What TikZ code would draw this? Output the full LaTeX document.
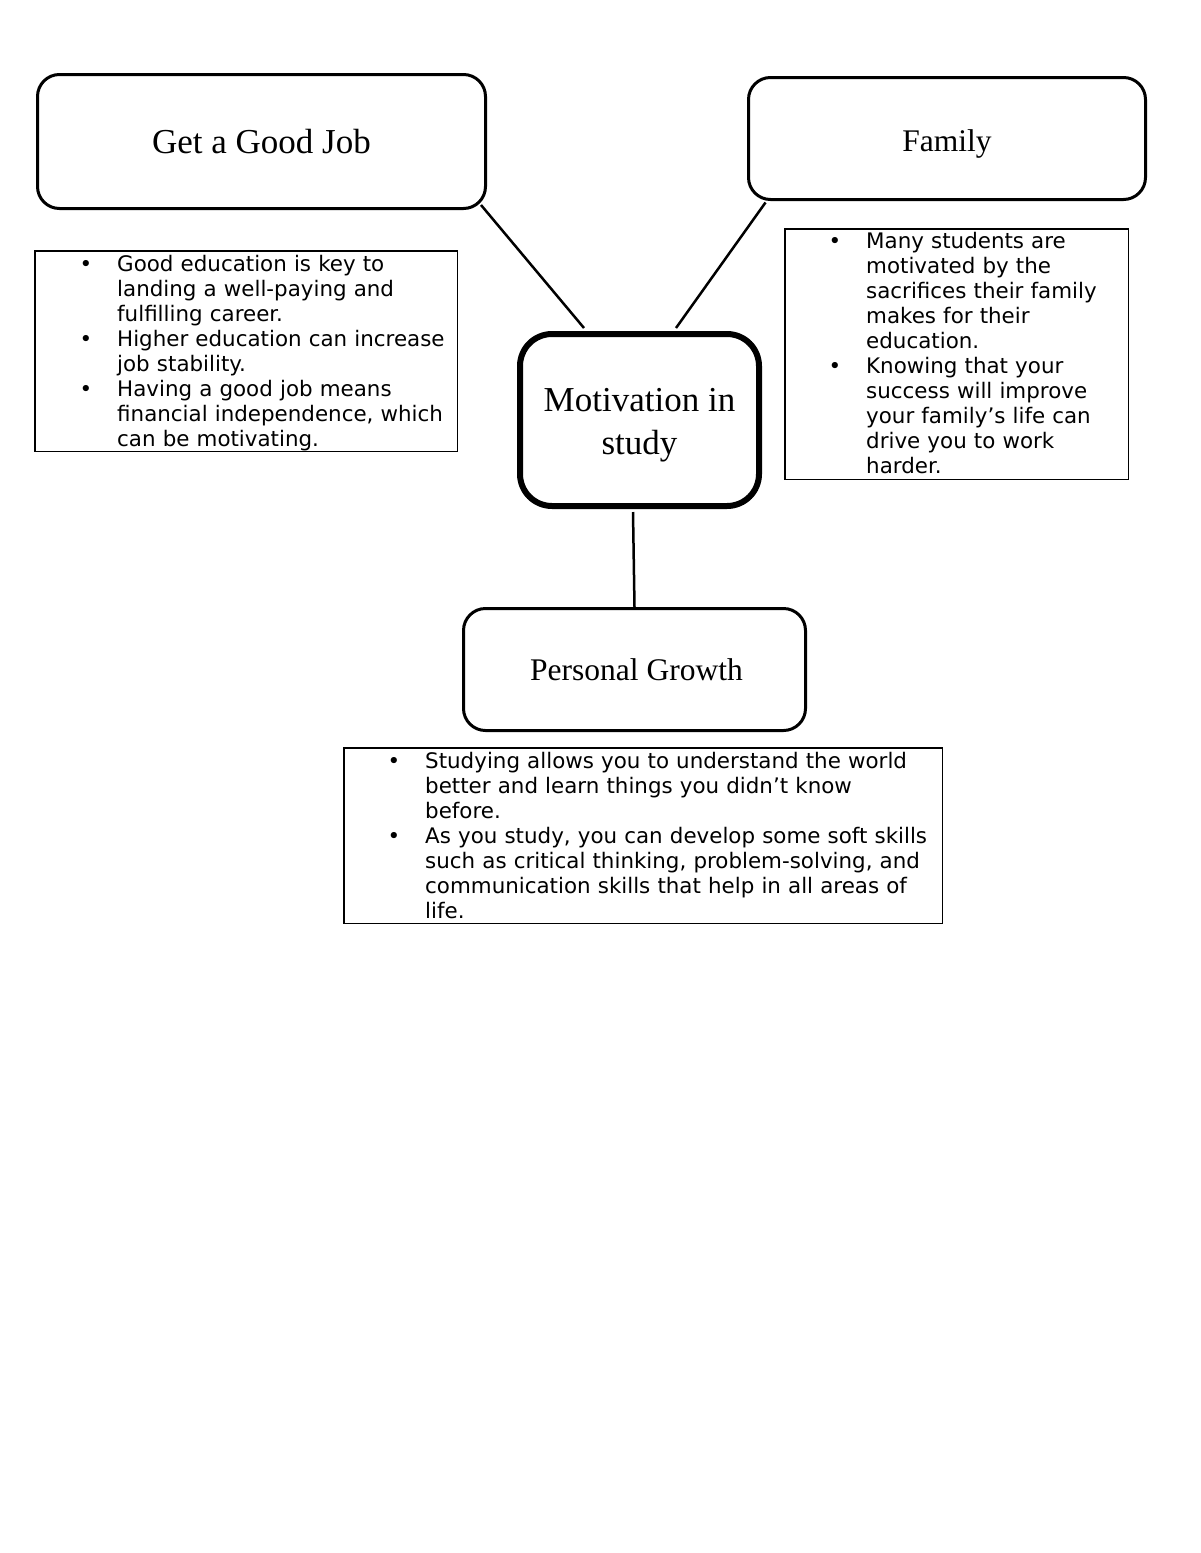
\documentclass[tikz,border=0pt]{standalone}
\usepackage{fontspec}
\setmainfont{Liberation Serif}
\newfontfamily\bodyfont{DejaVu Sans}
\newcommand\bulitem{\par\leavevmode\llap{\textbullet\hspace{25pt}}}
\begin{document}
\begin{tikzpicture}[x=1pt,y=-1pt,
  headbox/.style={draw, line width=3pt, rounded corners=22pt, inner sep=0pt, align=center,
    font=\fontsize{35}{43}\selectfont},
  mainbox/.style={draw, line width=6pt, rounded corners=32pt, inner sep=0pt, align=center,
    font=\fontsize{35}{43}\selectfont},
  notebox/.style={draw, line width=1.5pt, inner sep=0pt},
  notetext/.style={inner sep=0pt, anchor=base west, text width=#1, align=left,
    font=\bodyfont\fontsize{21.4}{25}\selectfont},
  link/.style={line width=2.5pt}]
\useasboundingbox (0,0) rectangle (1200,1553);

% main boxes
\node[headbox, minimum width=448pt, minimum height=134pt] (job) at (261.5,141.5) {Get a Good Job};
\node[headbox, minimum width=397pt, minimum height=122pt, font=\fontsize{31.5}{38}\selectfont] (family) at (947,138.5) {\raisebox{-5pt}[\height][\depth]{Family}};
\node[mainbox, minimum width=239pt, minimum height=172pt] (center) at (639.5,420)
  {\raisebox{-4.5pt}[\height][\depth]{\begin{tabular}{@{}c@{}}Motivation in\\study\end{tabular}}};
\node[headbox, minimum width=342pt, minimum height=122pt, font=\fontsize{31.5}{38}\selectfont] (growth) at (634.5,669.5) {\hspace{4pt}Personal Growth};

% note boxes
\node[notebox, minimum width=422.5pt, minimum height=200.5pt] (jobnote) at (246,351) {};
\node[notebox, minimum width=343.5pt, minimum height=250.5pt] (famnote) at (956.5,354) {};
\node[notebox, minimum width=598.5pt, minimum height=175.5pt] (grownote) at (643,835.5) {};

% note texts
\node[notetext=340pt] (jobtext) at (117,246) {%
\bulitem Good education is key to\\landing a well-paying and\\fulfilling career.
\bulitem Higher education can increase\\job stability.
\bulitem Having a good job means\\financial independence, which\\can be motivating.};

\node[notetext=260pt] (famtext) at (866,223) {%
\bulitem Many students are\\motivated by the\\sacrifices their family\\makes for their\\education.
\bulitem Knowing that your\\success will improve\\your family’s life can\\drive you to work\\harder.};

\node[notetext=515pt] (growtext) at (425,743) {%
\bulitem Studying allows you to understand the world\\better and learn things you didn’t know\\before.
\bulitem As you study, you can develop some soft skills\\such as critical thinking, problem-solving, and\\communication skills that help in all areas of\\life.};

% connectors
\draw[link] ([shift={(-6,-5)}]job.south east) -- ([shift={(-55.5,-3)}]center.north);
\draw[link] ([shift={(18.5,1.5)}]family.south west) -- ([shift={(36.5,-3)}]center.north);
\draw[link] ([shift={(-6.5,3)}]center.south) -- (growth.north);
\end{tikzpicture}
\end{document}
